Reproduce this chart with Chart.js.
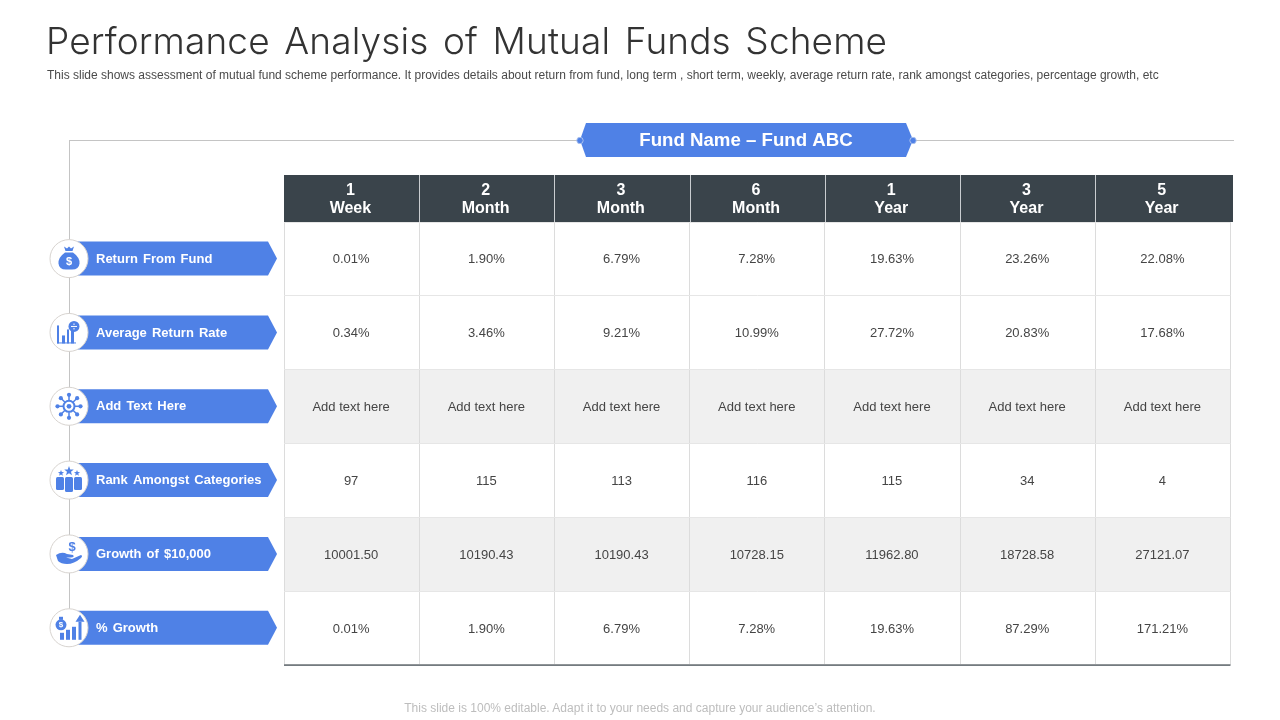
<!DOCTYPE html>
<html><head><meta charset="utf-8">
<style>
html,body{margin:0;padding:0;background:#fff;width:1280px;height:720px;overflow:hidden}
canvas{position:absolute;left:0;top:0}
.t{position:absolute;white-space:nowrap;font-family:"Liberation Sans",Arial,sans-serif}
#title{left:46px;top:18px;font-family:Inter,"Liberation Sans",sans-serif;font-weight:300;font-size:37px;line-height:46px;color:#333;letter-spacing:0.13px;word-spacing:4px}
#sub{left:47px;top:68px;font-size:12px;line-height:14px;color:#4a4a4a}
#foot{left:0;width:1280px;text-align:center;top:701px;font-size:12px;line-height:14px;color:#bdbdbd}
</style>
<script src="https://cdn.jsdelivr.net/npm/chart.js@4"></script>
</head><body>
<canvas id="c" width="1280" height="720"></canvas>
<div class="t" id="title">Performance Analysis of Mutual Funds Scheme</div>
<div class="t" id="sub">This slide shows assessment of mutual fund scheme performance. It provides details about return from fund, long term , short term, weekly, average return rate, rank amongst categories, percentage growth, etc</div>
<div class="t" id="foot">This slide is 100% editable. Adapt it to your needs and capture your audience’s attention.</div>
<script>
const periods = ["1 Week","2 Month","3 Month","6 Month","1 Year","3 Year","5 Year"];
const rowNames = ["Return From Fund","Average Return Rate","Add Text Here","Rank Amongst Categories","Growth of $10,000","% Growth"];
const returnFromFund = [0.01,1.90,6.79,7.28,19.63,23.26,22.08];
const averageReturnRate = [0.34,3.46,9.21,10.99,27.72,20.83,17.68];
const addTextHere = ["Add text here","Add text here","Add text here","Add text here","Add text here","Add text here","Add text here"];
const rankAmongst = [97,115,113,116,115,34,4];
const growthOf10000 = [10001.50,10190.43,10190.43,10728.15,11962.80,18728.58,27121.07];
const percentGrowth = [0.01,1.90,6.79,7.28,19.63,87.29,171.21];
const fundTitle = "Fund Name – Fund ABC";
const shadedRows = [2,4];

const pct = v => v.toFixed(2)+"%";
const money = v => v.toFixed(2);
const same = v => String(v);
const rowsData = [[returnFromFund,pct],[averageReturnRate,pct],[addTextHere,same],[rankAmongst,same],[growthOf10000,money],[percentGrowth,pct]];

const BLUE="#4f81e6", DARK="#3a444b", FONT='"Liberation Sans",Arial,sans-serif';

function poly(g,pts){g.beginPath();pts.forEach((p,i)=>i?g.lineTo(p[0],p[1]):g.moveTo(p[0],p[1]));g.closePath();g.fill();}
function star(g,x,y,r){const p=[];for(let i=0;i<10;i++){const a=-Math.PI/2+i*Math.PI/5,q=i%2?r*0.42:r;p.push([x+q*Math.cos(a),y+q*Math.sin(a)]);}poly(g,p);}
function rr(g,x,y,w,h,r){g.beginPath();g.roundRect(x,y,w,h,r);g.fill();}
function dollar(g,x,y,size,col){g.fillStyle=col;g.font='bold '+size+'px '+FONT;g.textAlign='center';g.textBaseline='middle';g.fillText('$',x,y);}

const icons=[
 (g,x,y)=>{ // money bag
  g.fillStyle=BLUE;
  g.beginPath();g.moveTo(x-4,y-6);g.quadraticCurveTo(x-11,y-1,x-10.5,y+5);g.quadraticCurveTo(x-10,y+11,x-3,y+11);g.lineTo(x+3,y+11);g.quadraticCurveTo(x+10,y+11,x+10.5,y+5);g.quadraticCurveTo(x+11,y-1,x+4,y-6);g.closePath();g.fill();
  poly(g,[[x-5,y-12],[x-2,y-10],[x,y-12],[x+2,y-10],[x+5,y-12],[x+3.5,y-7.5],[x-3.5,y-7.5]]);
  dollar(g,x,y+3,11,'#fff');
 },
 (g,x,y)=>{ // bars with divide badge
  g.fillStyle=BLUE;
  [[-12,-7,2,18],[-7,3,3,8],[-2,-3,2,14],[2,-2,3,13]].forEach(b=>g.fillRect(x+b[0],y+b[1],b[2],b[3]));
  g.fillRect(x-12,y+10,19,1);
  g.beginPath();g.arc(x+5,y-6,5.5,0,7);g.fill();
  g.fillStyle='#fff';g.fillRect(x+2,y-6.5,6,1);g.fillRect(x+4.5,y-9,1,1.5);g.fillRect(x+4.5,y-4.5,1,1.5);
 },
 (g,x,y)=>{ // hub
  g.strokeStyle=BLUE;g.fillStyle=BLUE;g.lineWidth=1.5;
  for(let i=0;i<8;i++){const a=i*Math.PI/4;g.beginPath();g.moveTo(x+6*Math.cos(a),y+6*Math.sin(a));g.lineTo(x+11*Math.cos(a),y+11*Math.sin(a));g.stroke();g.beginPath();g.arc(x+11.5*Math.cos(a),y+11.5*Math.sin(a),2.1,0,7);g.fill();}
  g.lineWidth=2;g.beginPath();g.arc(x,y,5.5,0,7);g.stroke();
  g.beginPath();g.arc(x,y,2.4,0,7);g.fill();
 },
 (g,x,y)=>{ // podium and stars
  g.fillStyle=BLUE;
  rr(g,x-13,y-3,8,13,1.5);rr(g,x-4,y-3,8,15,1.5);rr(g,x+5,y-3,8,13,1.5);
  star(g,x,y-9,5);star(g,x-8,y-7,3.2);star(g,x+8,y-7,3.2);
 },
 (g,x,y)=>{ // hand with dollar
  g.fillStyle=BLUE;
  g.beginPath();g.moveTo(x-13,y+1);g.quadraticCurveTo(x-7,y-3,x-2,y);g.lineTo(x+4,y+1);g.quadraticCurveTo(x+6,y+3,x+2,y+3.5);g.lineTo(x-3,y+3.5);g.lineTo(x+3,y+5);g.lineTo(x+12,y+1);g.quadraticCurveTo(x+14,y+2,x+12,y+4);g.quadraticCurveTo(x+5,y+10,x-2,y+10);g.quadraticCurveTo(x-8,y+10,x-11,y+7);g.closePath();g.fill();
  dollar(g,x+3,y-7,13,BLUE);
 },
 (g,x,y)=>{ // bag, bars, arrow
  g.fillStyle=BLUE;
  g.beginPath();g.arc(x-8,y-3,5.5,0,7);g.fill();
  g.fillRect(x-10,y-11,4,3);
  dollar(g,x-8,y-3,8,'#fff');g.fillStyle=BLUE;
  g.fillRect(x-9,y+5,4,7);g.fillRect(x-3,y+2,4,10);g.fillRect(x+3,y-1,4,13);g.fillRect(x+9.5,y-6,3,18);
  poly(g,[[x+11,y-13],[x+15.5,y-6],[x+6.5,y-6]]);
 }
];

const slidePlugin={
 id:'slide',
 beforeDraw(ch){
  const g=ch.ctx,a=ch.chartArea,ys=ch.scales.y;
  g.save();
  g.fillStyle='#fff';g.fillRect(0,0,1280,720);
  const rh=(a.bottom-a.top)/rowNames.length;
  g.fillStyle='#f0f0f0';
  shadedRows.forEach(i=>{const c=ys.getPixelForValue(i);g.fillRect(a.left,c-rh/2,a.right-a.left,rh);});
  g.fillStyle=DARK;g.fillRect(a.left,175,1233-a.left,a.top-175);
  const xs=ch.scales.x,cw=(a.right-a.left)/periods.length;
  g.fillStyle='#c9cdd0';
  for(let i=0;i<periods.length-1;i++){g.fillRect(Math.round(xs.getPixelForValue(i)+cw/2),175,1,a.top-175);}
  g.restore();
 },
 afterDatasetsDraw(ch){
  const g=ch.ctx,a=ch.chartArea,ys=ch.scales.y;
  g.save();
  // cell text sits on the points placed by the scales
  g.fillStyle='#454545';g.font='13px '+FONT;g.textAlign='center';g.textBaseline='middle';
  ch.data.datasets.forEach((ds,di)=>{
   ch.getDatasetMeta(di).data.forEach((pt,i)=>{g.fillText(ds.cellText[i],pt.x-0.5,pt.y+1);});
  });
  g.fillStyle=DARK;g.fillRect(a.left,a.bottom-0.5,a.right-a.left,1.2);
  // frame lines
  g.fillStyle='#c4c4c4';
  g.fillRect(69,140,1,491);g.fillRect(69,140,511,1);g.fillRect(913,140,321,1);
  // banner
  g.fillStyle=BLUE;poly(g,[[586,123],[906,123],[913,140],[906,157],[586,157],[580,140]]);
  [580,913].forEach(x=>{g.beginPath();g.arc(x,140.5,3.2,0,7);g.fillStyle=BLUE;g.fill();g.strokeStyle='#a9c0ee';g.lineWidth=1;g.stroke();});
  g.fillStyle='#fff';g.font='bold 18.67px '+FONT;g.textAlign='center';g.textBaseline='middle';
  g.fillText(fundTitle,746,141);
  // row ribbons
  rowNames.forEach((name,i)=>{
   const cy=ys.getPixelForValue(i)-0.3;
   g.fillStyle=BLUE;
   poly(g,[[72,cy-17],[268,cy-17],[277,cy],[268,cy+17],[72,cy+17]]);
   g.fillStyle='#fff';g.font='bold 13px '+FONT;g.textAlign='left';g.textBaseline='middle';
   g.wordSpacing='1.5px';
   g.fillText(name,96,cy+0.5);
   g.wordSpacing='0px';
   g.beginPath();g.arc(69,cy,19,0,7);g.fillStyle='#fff';g.fill();g.strokeStyle='#d8d4d0';g.lineWidth=1;g.stroke();
   icons[i](g,69,cy);
  });
  g.restore();
 }
};

new Chart(document.getElementById('c'),{
 type:'scatter',
 data:{datasets:rowsData.map((r,ri)=>({
  label:rowNames[ri],
  data:periods.map(p=>({x:p,y:rowNames[ri]})),
  cellText:r[0].map(r[1]),
  pointRadius:0,showLine:false
 }))},
 options:{
  responsive:false,animation:false,devicePixelRatio:1,
  layout:{padding:{left:284,top:175,right:49.5,bottom:55}},
  plugins:{legend:{display:false},tooltip:{enabled:false},title:{display:false}},
  scales:{
   x:{type:'category',labels:periods,position:'top',offset:true,
      afterFit(s){s.height=47;},
      border:{display:false},
      grid:{offset:true,color:'#dcdcdc',lineWidth:1,drawTicks:false},
      ticks:{autoSkip:false,maxRotation:0,padding:3.5,labelOffset:-1.2,color:'#fff',font:{family:FONT,size:16,weight:'bold',lineHeight:1.18},
        callback(v){return this.getLabelForValue(v).split(' ');}}},
   y:{type:'category',labels:rowNames,offset:true,
      afterFit(s){s.width=0;},
      border:{display:false},
      grid:{offset:true,color:'#e6e6e6',lineWidth:1,drawTicks:false},
      ticks:{display:false}}
  }
 },
 plugins:[slidePlugin]
});
</script>
</body></html>
